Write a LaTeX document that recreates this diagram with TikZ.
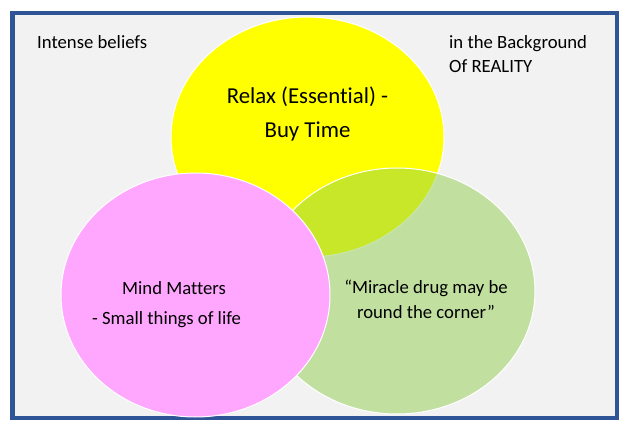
\documentclass[tikz,border=0pt]{standalone}
\usepackage{fontspec}
\setmainfont{Carlito}[Ligatures=NoCommon]
\usetikzlibrary{shapes.geometric}
\definecolor{vennYellow}{RGB}{255,255,0}
\definecolor{vennPink}{RGB}{255,166,255}
\definecolor{vennGreen}{RGB}{146,208,80}
\definecolor{paneGray}{RGB}{242,242,242}
\definecolor{frameBlue}{RGB}{47,85,151}

\begin{document}
\begin{tikzpicture}[x=1pt,y=-1pt,
    bubble/.style={ellipse,draw=white,line width=1pt,inner sep=0pt},
    lbl/.style={font=\fontsize{18.7}{24}\selectfont,inner sep=0pt,text=black}]

  \useasboundingbox (0,0) rectangle (626,427);
  \draw[frameBlue,line width=4.5pt,fill=paneGray] (12.5,13) rectangle (617,418);

  \node[bubble,fill=vennYellow,minimum width=273pt,minimum height=240pt] (relax) at (307.5,137) {};
  \node[bubble,fill=vennGreen,fill opacity=0.5,minimum width=276pt,minimum height=246pt] (miracle) at (397,291) {};
  \node[bubble,fill=vennPink,minimum width=269pt,minimum height=244pt] (mind) at (195.5,295) {};

  \node[lbl,anchor=base west] (beliefs) at (37,49) {Intense beliefs};
  \node[lbl,anchor=base west,align=left] (reality) at (449,73) {in the Background\\Of REALITY};
  \node[lbl,font=\fontsize{22.8}{34}\selectfont,align=center,anchor=base] (relaxtxt) at (307.5,138)
    {Relax (Essential) -\\Buy Time};
  \node[lbl,font=\fontsize{18.7}{29}\selectfont,align=left,anchor=base west] (mindtxt) at (92,324)
    {\hspace*{30pt}Mind Matters\\- Small things of life};
  \node[lbl,font=\fontsize{18.7}{25}\selectfont,align=center,anchor=base] (miracletxt) at (426,319)
    {“Miracle drug may be\\round the corner”};
\end{tikzpicture}
\end{document}
